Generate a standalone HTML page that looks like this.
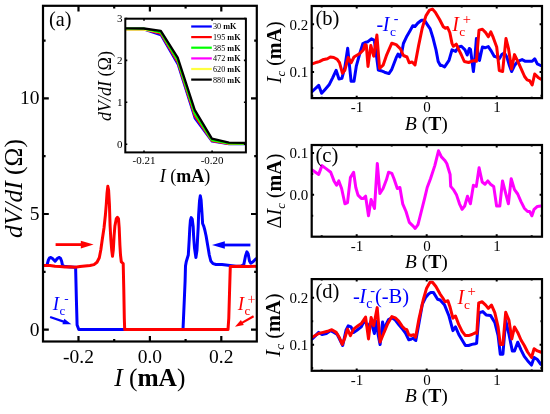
<!DOCTYPE html>
<html><head><meta charset="utf-8"><title>Figure</title>
<style>html,body{margin:0;padding:0;background:#fff;overflow:hidden}svg{display:block}</style>
</head><body>
<svg width="550" height="414" viewBox="0 0 550 414" font-family="'Liberation Serif', 'Times New Roman', serif"><rect width="550" height="414" fill="#fff"/><clipPath id="ca"><rect x="43" y="5.8" width="213.8" height="335.7"/></clipPath><g clip-path="url(#ca)"><polyline points="43.0,265.5 47.0,265.2 48.4,260.0 49.6,257.8 50.8,257.4 52.5,258.5 55.1,261.2 57.3,258.5 59.0,257.4 60.4,258.2 61.6,261.0 62.6,265.8 66.0,266.6 70.0,266.9 75.6,267.2 76.4,300.0 77.1,325.0 78.8,329.6 183.0,329.6 184.3,300.0 185.1,281.0 185.5,266.0 186.3,261.5 188.3,255.0 189.2,240.0 189.8,228.0 190.4,220.5 191.2,217.6 192.2,219.0 193.2,227.0 193.6,236.0 194.5,248.0 195.9,257.6 197.0,250.0 197.6,238.0 198.2,227.0 198.6,215.0 199.5,201.0 200.3,195.7 201.1,200.0 202.1,215.0 202.6,223.5 203.8,226.3 204.8,230.0 206.1,236.0 207.8,246.0 209.3,255.0 210.8,261.0 213.0,263.6 216.0,264.5 222.0,264.6 228.0,265.3 236.0,266.2 241.0,266.3 243.8,264.5 245.5,256.0 246.9,251.8 248.2,254.0 249.5,261.0 250.8,263.2 253.0,261.8 255.5,259.3 257.0,258.2" fill="none" stroke="#0000ff" stroke-width="3.0" stroke-linejoin="round" stroke-linecap="round" /><polyline points="43.0,265.6 50.0,265.5 55.0,266.3 60.0,266.6 65.0,267.0 70.0,266.7 75.0,267.2 80.0,266.6 85.0,266.0 90.0,265.5 94.0,264.6 97.0,262.3 99.3,257.8 100.8,250.0 102.2,240.0 104.0,228.0 105.4,215.0 106.3,204.0 107.0,193.5 107.8,186.3 108.6,190.0 109.4,204.0 110.1,226.0 110.9,240.0 111.7,250.0 112.5,256.3 113.3,250.0 114.1,236.0 114.9,226.0 116.3,218.8 117.5,217.3 118.5,218.8 119.2,228.0 119.9,245.0 120.5,255.0 121.3,261.8 123.2,263.5 123.8,290.0 124.3,318.0 124.7,329.6 228.0,329.6 228.8,318.0 229.6,290.0 230.3,266.6 240.0,266.3 248.0,266.6 257.0,266.3" fill="none" stroke="#ff0000" stroke-width="3.0" stroke-linejoin="round" stroke-linecap="round" /></g><line x1="55.6" y1="244.6" x2="81.8" y2="244.6" stroke="#ff0000" stroke-width="2.8"/><polygon points="93.6,244.6 80.8,248.4 80.8,240.8" fill="#ff0000"/><line x1="250.4" y1="245.0" x2="223.8" y2="245.0" stroke="#0000ff" stroke-width="2.8"/><polygon points="212.0,245.0 224.8,241.2 224.8,248.8" fill="#0000ff"/><line x1="50.1" y1="317.0" x2="64.3" y2="321.9" stroke="#0000ff" stroke-width="2.2"/><polygon points="71.4,324.3 62.4,324.3 64.3,318.8" fill="#0000ff"/><line x1="253.6" y1="316.2" x2="241.5" y2="323.1" stroke="#ff0000" stroke-width="2.2"/><polygon points="235.0,326.8 240.9,320.1 243.8,325.1" fill="#ff0000"/><rect x="43" y="5.8" width="213.8" height="335.7" fill="none" stroke="#000" stroke-width="2.2"/><path d="M78.5,341.5v-5.6M78.5,5.8v5.6M149.9,341.5v-5.6M149.9,5.8v5.6M221.3,341.5v-5.6M221.3,5.8v5.6M114.2,341.5v-2.6M114.2,5.8v2.6M185.6,341.5v-2.6M185.6,5.8v2.6M43,329.6h5.8M256.8,329.6h-5.8M43,214.0h5.8M256.8,214.0h-5.8M43,98.4h5.8M256.8,98.4h-5.8M43,271.8h2.6M256.8,271.8h-2.6M43,156.2h2.6M256.8,156.2h-2.6M43,40.6h2.6M256.8,40.6h-2.6" stroke="#000" stroke-width="2.2" fill="none"/><text x="39.5" y="104.3" font-size="19.5" text-anchor="end" font-weight="normal" font-style="normal" fill="#000" >10</text><text x="39.5" y="219.8" font-size="19.5" text-anchor="end" font-weight="normal" font-style="normal" fill="#000" >5</text><text x="39.5" y="336.4" font-size="19.5" text-anchor="end" font-weight="normal" font-style="normal" fill="#000" >0</text><text x="78.5" y="362.6" font-size="19.5" text-anchor="middle" font-weight="normal" font-style="normal" fill="#000" >-0.2</text><text x="149.9" y="362.6" font-size="19.5" text-anchor="middle" font-weight="normal" font-style="normal" fill="#000" >0.0</text><text x="221.3" y="362.6" font-size="19.5" text-anchor="middle" font-weight="normal" font-style="normal" fill="#000" >0.2</text><text x="49.0" y="26.4" font-size="20.2" text-anchor="start" font-weight="normal" font-style="normal" fill="#000" >(a)</text><text x="149.8" y="386.2" font-size="25.4" text-anchor="middle"><tspan font-style="italic">I</tspan> (<tspan font-weight="bold">mA</tspan>)</text><text transform="translate(22.4,188.5) rotate(-90)" font-size="25.5" text-anchor="middle"><tspan font-style="italic">dV/dI</tspan> (Ω)</text><text x="52.8" y="309.7" font-size="19" text-anchor="start" font-weight="normal" font-style="italic" fill="#0000ff" >I</text><text x="59.4" y="314.8" font-size="13" text-anchor="start" font-weight="normal" font-style="normal" fill="#0000ff" >c</text><text x="64.3" y="302.5" font-size="13" text-anchor="start" font-weight="normal" font-style="normal" fill="#0000ff" >-</text><text x="237.8" y="309.7" font-size="19" text-anchor="start" font-weight="normal" font-style="italic" fill="#ff0000" >I</text><text x="244.6" y="315.2" font-size="13" text-anchor="start" font-weight="normal" font-style="normal" fill="#ff0000" >c</text><text x="247.4" y="303.6" font-size="14.2" text-anchor="start" font-weight="normal" font-style="normal" fill="#ff0000" >+</text><rect x="125.3" y="18.7" width="120.60000000000001" height="133.70000000000002" fill="#fff" stroke="none"/><clipPath id="ci"><rect x="125.3" y="18.7" width="120.6" height="133.7"/></clipPath><g clip-path="url(#ci)"><polyline points="125.3,29.6 127.0,29.6 143.8,29.6 160.8,35.3 177.7,64.5 194.7,118.5 211.9,141.6 229.0,144.2 246.0,144.2" fill="none" stroke="#0000ff" stroke-width="2.0" stroke-linejoin="round" stroke-linecap="round" /><polyline points="125.3,29.3 127.0,29.3 143.8,29.3 160.8,33.6 177.7,62.0 194.7,115.5 211.9,140.8 229.0,143.9 246.0,144.0" fill="none" stroke="#ff00ff" stroke-width="2.0" stroke-linejoin="round" stroke-linecap="round" /><polyline points="125.3,29.3 127.0,29.3 143.8,29.3 160.8,33.8 177.7,62.5 194.7,116.3 211.9,141.0 229.0,144.0 246.0,144.0" fill="none" stroke="#ff0000" stroke-width="2.0" stroke-linejoin="round" stroke-linecap="round" /><polyline points="125.3,29.7 127.0,29.7 143.8,29.7 160.8,32.3 177.7,60.2 194.7,113.0 211.9,140.1 229.0,143.5 246.0,143.6" fill="none" stroke="#ffff40" stroke-width="2.0" stroke-linejoin="round" stroke-linecap="round" /><polyline points="125.3,28.6 127.0,28.6 143.8,28.6 160.8,32.4 177.7,60.6 194.7,113.6 211.9,140.2 229.0,143.6 246.0,143.7" fill="none" stroke="#00ff00" stroke-width="2.0" stroke-linejoin="round" stroke-linecap="round" /><polyline points="125.3,28.4 127.0,28.4 143.8,28.5 160.8,30.9 177.7,57.7 194.7,109.8 211.9,138.7 229.0,142.7 246.0,142.9" fill="none" stroke="#000000" stroke-width="2.3" stroke-linejoin="round" stroke-linecap="round" /></g><rect x="125.3" y="18.7" width="120.60000000000001" height="133.70000000000002" fill="none" stroke="#000" stroke-width="2"/><path d="M144.0,152.4v-2M144.0,18.7v2M212.1,152.4v-2M212.1,18.7v2M125.3,144.2h2M245.9,144.2h-2M125.3,102.3h2M245.9,102.3h-2M125.3,60.4h2M245.9,60.4h-2M125.3,18.5h2M245.9,18.5h-2" stroke="#000" stroke-width="1.6" fill="none"/><text x="122.6" y="147.9" font-size="11" text-anchor="end" font-weight="normal" font-style="normal" fill="#000" >0</text><text x="122.6" y="106.0" font-size="11" text-anchor="end" font-weight="normal" font-style="normal" fill="#000" >1</text><text x="122.6" y="64.1" font-size="11" text-anchor="end" font-weight="normal" font-style="normal" fill="#000" >2</text><text x="122.6" y="22.2" font-size="11" text-anchor="end" font-weight="normal" font-style="normal" fill="#000" >3</text><text x="144.0" y="164" font-size="11" text-anchor="middle" font-weight="normal" font-style="normal" fill="#000" >-0.21</text><text x="212.1" y="164" font-size="11" text-anchor="middle" font-weight="normal" font-style="normal" fill="#000" >-0.20</text><text x="185" y="182.3" font-size="18" text-anchor="middle"><tspan font-style="italic">I</tspan> (<tspan font-weight="bold">mA</tspan>)</text><text transform="translate(111,86) rotate(-90)" font-size="18" text-anchor="middle"><tspan font-style="italic">dV/dI</tspan> (Ω)</text><line x1="191.2" y1="26.5" x2="211.8" y2="26.5" stroke="#0000ff" stroke-width="2.2"/><text x="213" y="29.4" font-size="8.2">30 <tspan font-weight="bold">mK</tspan></text><line x1="191.2" y1="37.1" x2="211.8" y2="37.1" stroke="#ff0000" stroke-width="2.2"/><text x="213" y="40.0" font-size="8.2">195 <tspan font-weight="bold">mK</tspan></text><line x1="191.2" y1="47.7" x2="211.8" y2="47.7" stroke="#00ff00" stroke-width="2.2"/><text x="213" y="50.6" font-size="8.2">385 <tspan font-weight="bold">mK</tspan></text><line x1="191.2" y1="58.4" x2="211.8" y2="58.4" stroke="#ff00ff" stroke-width="2.2"/><text x="213" y="61.3" font-size="8.2">472 <tspan font-weight="bold">mK</tspan></text><line x1="191.2" y1="69.0" x2="211.8" y2="69.0" stroke="#ffff40" stroke-width="2.2"/><text x="213" y="71.9" font-size="8.2">620 <tspan font-weight="bold">mK</tspan></text><line x1="191.2" y1="79.6" x2="211.8" y2="79.6" stroke="#000000" stroke-width="2.2"/><text x="213" y="82.5" font-size="8.2">880 <tspan font-weight="bold">mK</tspan></text><clipPath id="cb"><rect x="311.7" y="6" width="230.3" height="92.1"/></clipPath><clipPath id="cc"><rect x="311.7" y="145" width="230.3" height="91.69999999999999"/></clipPath><clipPath id="cd"><rect x="311.7" y="279.1" width="230.3" height="91.69999999999999"/></clipPath><g clip-path="url(#cb)"><polyline points="311.0,92.0 312.2,91.5 318.7,85.3 321.6,93.3 325.1,89.4 329.1,84.8 332.6,77.8 336.1,70.3 339.0,79.0 341.9,78.4 344.8,67.4 347.7,48.3 351.1,81.3 354.0,81.3 356.3,66.2 359.8,53.5 362.9,43.5 365.0,42.5 367.9,41.7 371.4,38.8 374.3,40.4 376.5,56.0 378.3,70.0 380.9,70.7 384.6,72.2 388.9,73.6 391.8,69.3 394.0,63.5 396.2,57.7 398.0,54.1 399.8,57.0 402.0,51.2 403.4,43.5 407.0,35.9 409.9,30.9 412.8,25.8 415.0,26.5 417.9,23.0 421.5,20.2 424.4,20.2 427.3,24.6 430.2,28.9 433.1,38.3 436.0,49.9 438.2,61.5 440.4,65.5 441.4,65.2 444.6,66.9 449.0,60.4 452.0,49.9 455.6,51.4 458.5,47.0 461.4,46.3 465.0,49.9 467.2,55.0 469.3,48.5 470.5,49.5 472.2,62.2 473.4,71.5 474.8,58.8 476.4,38.5 478.1,54.6 479.5,60.5 482.4,47.0 484.9,47.8 488.3,46.6 490.8,50.3 494.2,56.3 496.7,57.1 499.3,58.8 501.8,54.6 504.3,52.9 506.9,57.1 509.4,65.5 511.6,71.5 514.5,65.5 517.8,61.3 522.1,59.6 525.4,61.3 528.8,61.3 532.2,61.3 534.7,58.8 537.3,63.9 540.6,65.5 543.0,65.8" fill="none" stroke="#0000ff" stroke-width="3.0" stroke-linejoin="round" stroke-linecap="round" /><polyline points="311.0,64.2 312.3,63.9 317.0,62.2 319.3,61.6 322.7,59.8 327.4,58.7 330.3,57.0 333.8,57.5 337.2,59.3 339.5,62.7 342.4,73.2 344.8,70.3 348.2,57.5 351.1,62.7 354.0,57.0 356.9,55.2 359.8,53.5 363.3,50.0 365.0,44.7 366.3,45.2 368.0,66.4 370.8,45.4 373.7,56.2 376.9,35.0 379.6,68.5 383.1,65.2 386.7,54.8 391.8,43.2 396.2,44.6 400.5,49.0 403.4,55.5 407.0,57.0 409.2,62.8 412.1,62.0 415.0,64.9 418.6,45.6 422.2,28.2 425.9,15.9 429.5,10.1 432.4,9.1 435.3,12.2 439.6,19.5 443.3,26.7 445.4,28.2 447.6,27.5 449.8,32.5 452.0,43.4 453.4,46.3 456.3,44.1 458.5,49.2 461.4,55.0 464.3,61.5 468.6,62.5 471.4,61.3 474.8,60.5 476.4,61.3 479.0,30.1 482.4,29.2 485.7,32.6 488.3,36.8 490.8,31.8 493.3,37.7 496.7,47.0 499.3,70.6 502.6,71.5 506.0,38.5 508.5,48.6 511.6,68.9 514.5,54.6 517.8,61.3 521.2,68.9 524.6,76.5 527.1,79.9 529.7,80.7 532.2,85.0 534.7,74.0 538.1,77.4 540.6,79.1 543.0,79.8" fill="none" stroke="#ff0000" stroke-width="3.0" stroke-linejoin="round" stroke-linecap="round" /></g><g clip-path="url(#cc)"><polyline points="312.2,170.0 318.7,174.4 322.0,165.6 326.4,168.9 330.7,172.2 334.0,180.9 336.6,185.3 338.8,180.9 341.6,188.5 344.9,203.8 347.5,202.7 350.4,177.6 353.6,172.2 355.8,187.5 358.0,195.1 361.3,198.4 363.5,198.4 365.6,196.2 368.5,215.8 371.1,199.5 374.5,208.5 377.3,163.5 379.9,193.5 383.1,188.5 386.4,179.8 388.6,172.2 391.8,173.3 394.0,178.7 397.3,188.5 399.9,187.5 402.7,203.8 406.0,211.5 409.3,222.4 412.6,225.6 415.2,228.5 418.0,224.6 421.3,211.5 424.6,198.4 427.2,187.5 430.5,178.7 434.8,165.6 438.5,150.8 441.4,156.9 444.6,160.2 446.8,163.5 450.1,174.4 450.7,186.4 453.4,189.6 456.6,195.1 459.5,203.8 462.1,209.3 464.7,206.0 467.5,196.2 470.4,203.8 473.4,185.3 476.3,186.4 479.1,167.8 482.2,182.0 485.0,184.2 487.8,180.9 490.5,184.2 493.7,186.4 496.6,206.0 499.8,206.0 502.5,180.9 505.3,191.8 508.4,203.8 511.2,178.7 514.5,189.6 517.7,194.0 521.0,201.6 524.3,208.2 527.6,211.5 529.7,211.5 531.9,215.8 534.1,209.3 537.4,206.4 540.6,206.0 542.0,206.0" fill="none" stroke="#ff00ff" stroke-width="3.0" stroke-linejoin="round" stroke-linecap="round" /></g><g clip-path="url(#cd)"><polyline points="312.2,338.9 315.5,335.6 318.7,332.4 322.0,334.5 326.4,333.5 330.7,330.6 334.0,332.4 337.3,334.5 340.5,341.1 342.7,345.5 346.0,330.2 348.2,325.8 351.0,326.9 353.6,332.4 356.9,330.2 361.3,326.9 364.5,320.4 367.8,326.9 371.1,321.5 374.4,333.5 376.3,321.0 378.2,335.0 380.1,344.6 382.6,322.0 384.3,331.0 386.4,324.0 388.6,319.5 391.9,317.8 395.3,320.0 398.7,324.5 402.9,329.6 405.5,333.0 408.8,339.8 411.5,339.0 413.6,338.0 414.8,340.0 415.8,340.5 419.1,322.5 422.4,304.0 425.6,297.5 428.3,294.2 430.8,292.4 433.4,292.4 437.6,299.2 440.1,300.0 444.6,305.1 449.0,316.0 452.9,330.6 455.5,326.9 458.8,334.5 462.1,340.0 465.4,345.5 468.6,345.5 471.9,344.4 475.2,343.7 476.6,343.3 479.1,312.7 482.8,311.6 486.1,314.9 490.5,315.4 494.8,322.5 498.1,335.6 500.3,354.2 502.9,354.2 505.7,320.4 509.0,334.5 512.3,350.9 514.5,350.9 517.7,342.2 521.0,349.8 524.3,356.4 527.6,360.7 531.5,365.1 534.1,357.5 537.4,359.6 540.6,364.0 542.0,365.0" fill="none" stroke="#0000ff" stroke-width="3.0" stroke-linejoin="round" stroke-linecap="round" /><polyline points="312.2,337.2 318.7,333.5 323.1,332.4 327.5,331.3 331.8,329.7 336.2,332.4 339.5,337.8 342.3,344.4 344.9,337.8 347.5,329.1 350.4,335.6 353.6,329.1 358.0,325.8 361.3,323.6 365.6,317.1 368.5,338.9 371.1,317.5 373.7,325.8 377.2,307.6 380.1,342.0 383.5,333.8 387.7,323.7 391.9,316.6 395.3,317.8 398.7,321.1 402.1,326.2 404.6,328.8 406.8,329.6 408.8,334.7 411.4,335.5 413.6,334.7 415.6,337.2 419.0,318.6 423.2,300.0 426.6,288.2 430.0,282.2 432.5,282.2 435.9,286.5 440.1,294.1 442.5,297.5 445.1,301.8 447.9,300.7 450.1,307.3 452.9,318.2 455.5,316.0 458.8,324.7 462.1,331.3 465.4,335.6 468.6,335.6 471.9,334.5 475.2,332.8 476.8,333.5 478.7,302.9 482.2,301.8 485.7,305.1 488.3,308.4 491.5,305.1 494.8,312.7 498.1,326.9 500.3,344.4 502.9,344.4 505.7,312.3 509.0,320.4 511.8,338.9 514.5,326.9 517.7,332.4 521.0,340.0 524.3,345.5 527.6,352.0 531.5,357.5 534.1,348.7 537.4,350.9 540.6,352.0 542.0,352.5" fill="none" stroke="#ff0000" stroke-width="3.0" stroke-linejoin="round" stroke-linecap="round" /></g><rect x="311.7" y="6" width="230.3" height="92.1" fill="none" stroke="#000" stroke-width="2.2"/><path d="M356.7,98.1v-2.4M356.7,6v2.4M426.7,98.1v-2.4M426.7,6v2.4M496.7,98.1v-2.4M496.7,6v2.4M321.7,98.1v-1.4M321.7,6v1.4M391.7,98.1v-1.4M391.7,6v1.4M461.7,98.1v-1.4M461.7,6v1.4M531.7,98.1v-1.4M531.7,6v1.4M311.7,71.9h2.4M542,71.9h-2.4M311.7,24.3h2.4M542,24.3h-2.4M311.7,95.7h1.5M542,95.7h-1.5M311.7,48.1h1.5M542,48.1h-1.5" stroke="#000" stroke-width="2" fill="none"/><text x="308.3" y="77.1" font-size="15" text-anchor="end" font-weight="normal" font-style="normal" fill="#000" >0.1</text><text x="308.3" y="29.5" font-size="15" text-anchor="end" font-weight="normal" font-style="normal" fill="#000" >0.2</text><text x="357.0" y="112.2" font-size="15" text-anchor="middle" font-weight="normal" font-style="normal" fill="#000" >-1</text><text x="427.0" y="112.2" font-size="15" text-anchor="middle" font-weight="normal" font-style="normal" fill="#000" >0</text><text x="497.0" y="112.2" font-size="15" text-anchor="middle" font-weight="normal" font-style="normal" fill="#000" >1</text><text x="426.3" y="129.6" font-size="19.7" text-anchor="middle"><tspan font-style="italic">B</tspan> (<tspan font-weight="bold">T</tspan>)</text><text x="315.4" y="24.6" font-size="20.6" text-anchor="start" font-weight="normal" font-style="normal" fill="#000" >(b)</text><rect x="311.7" y="145" width="230.3" height="91.69999999999999" fill="none" stroke="#000" stroke-width="2.2"/><path d="M356.7,236.7v-2.4M356.7,145v2.4M426.7,236.7v-2.4M426.7,145v2.4M496.7,236.7v-2.4M496.7,145v2.4M321.7,236.7v-1.4M321.7,145v1.4M391.7,236.7v-1.4M391.7,145v1.4M461.7,236.7v-1.4M461.7,145v1.4M531.7,236.7v-1.4M531.7,145v1.4M311.7,194.8h2.4M542,194.8h-2.4M311.7,152.9h2.4M542,152.9h-2.4M311.7,215.8h1.5M542,215.8h-1.5M311.7,173.9h1.5M542,173.9h-1.5" stroke="#000" stroke-width="2" fill="none"/><text x="308.3" y="200.0" font-size="15" text-anchor="end" font-weight="normal" font-style="normal" fill="#000" >0.0</text><text x="308.3" y="158.1" font-size="15" text-anchor="end" font-weight="normal" font-style="normal" fill="#000" >0.1</text><text x="357.0" y="250.8" font-size="15" text-anchor="middle" font-weight="normal" font-style="normal" fill="#000" >-1</text><text x="427.0" y="250.8" font-size="15" text-anchor="middle" font-weight="normal" font-style="normal" fill="#000" >0</text><text x="497.0" y="250.8" font-size="15" text-anchor="middle" font-weight="normal" font-style="normal" fill="#000" >1</text><text x="426.3" y="268.2" font-size="19.7" text-anchor="middle"><tspan font-style="italic">B</tspan> (<tspan font-weight="bold">T</tspan>)</text><text x="315.4" y="161.9" font-size="20.6" text-anchor="start" font-weight="normal" font-style="normal" fill="#000" >(c)</text><rect x="311.7" y="279.1" width="230.3" height="91.69999999999999" fill="none" stroke="#000" stroke-width="2.2"/><path d="M356.7,370.8v-2.4M356.7,279.1v2.4M426.7,370.8v-2.4M426.7,279.1v2.4M496.7,370.8v-2.4M496.7,279.1v2.4M321.7,370.8v-1.4M321.7,279.1v1.4M391.7,370.8v-1.4M391.7,279.1v1.4M461.7,370.8v-1.4M461.7,279.1v1.4M531.7,370.8v-1.4M531.7,279.1v1.4M311.7,344.7h2.4M542,344.7h-2.4M311.7,297.8h2.4M542,297.8h-2.4M311.7,368.1h1.5M542,368.1h-1.5M311.7,321.2h1.5M542,321.2h-1.5" stroke="#000" stroke-width="2" fill="none"/><text x="308.3" y="349.9" font-size="15" text-anchor="end" font-weight="normal" font-style="normal" fill="#000" >0.1</text><text x="308.3" y="303.0" font-size="15" text-anchor="end" font-weight="normal" font-style="normal" fill="#000" >0.2</text><text x="357.0" y="384.9" font-size="15" text-anchor="middle" font-weight="normal" font-style="normal" fill="#000" >-1</text><text x="427.0" y="384.9" font-size="15" text-anchor="middle" font-weight="normal" font-style="normal" fill="#000" >0</text><text x="497.0" y="384.9" font-size="15" text-anchor="middle" font-weight="normal" font-style="normal" fill="#000" >1</text><text x="426.3" y="402.3" font-size="19.7" text-anchor="middle"><tspan font-style="italic">B</tspan> (<tspan font-weight="bold">T</tspan>)</text><text x="315.4" y="297.9" font-size="20.6" text-anchor="start" font-weight="normal" font-style="normal" fill="#000" >(d)</text><text transform="translate(281,52.3) rotate(-90)" font-size="20" text-anchor="middle"><tspan font-style="italic">I</tspan><tspan font-size="13" font-style="italic" dy="4">c</tspan><tspan dy="-4"> (</tspan><tspan font-weight="bold">mA</tspan>)</text><text transform="translate(281,191) rotate(-90)" font-size="20" text-anchor="middle">Δ<tspan font-style="italic">I</tspan><tspan font-size="13" font-style="italic" dy="4">c</tspan><tspan dy="-4"> (</tspan><tspan font-weight="bold">mA</tspan>)</text><text transform="translate(279.9,325.1) rotate(-90)" font-size="20.4" text-anchor="middle"><tspan font-style="italic">I</tspan><tspan font-size="13.3" font-style="italic" dy="4">c</tspan><tspan dy="-4"> (</tspan><tspan font-weight="bold">mA</tspan>)</text><text x="376.6" y="30.7" font-size="20" text-anchor="start" font-weight="normal" font-style="normal" fill="#0000ff" >-</text><text x="382.8" y="30.7" font-size="20" text-anchor="start" font-weight="normal" font-style="italic" fill="#0000ff" >I</text><text x="390" y="36" font-size="13.5" text-anchor="start" font-weight="normal" font-style="normal" fill="#0000ff" >c</text><text x="393.8" y="22.6" font-size="14" text-anchor="start" font-weight="normal" font-style="normal" fill="#0000ff" >-</text><text x="452.3" y="30.7" font-size="20" text-anchor="start" font-weight="normal" font-style="italic" fill="#ff0000" >I</text><text x="459.2" y="36" font-size="13.5" text-anchor="start" font-weight="normal" font-style="normal" fill="#ff0000" >c</text><text x="462.8" y="24.3" font-size="14.5" text-anchor="start" font-weight="normal" font-style="normal" fill="#ff0000" >+</text><text x="353.1" y="303.2" font-size="20.6" text-anchor="start" font-weight="normal" font-style="normal" fill="#0000ff" >-</text><text x="359.3" y="302.9" font-size="20.6" text-anchor="start" font-weight="normal" font-style="italic" fill="#0000ff" >I</text><text x="366.2" y="308.4" font-size="14" text-anchor="start" font-weight="normal" font-style="normal" fill="#0000ff" >c</text><text x="370.2" y="295.2" font-size="14.5" text-anchor="start" font-weight="normal" font-style="normal" fill="#0000ff" >-</text><text x="374.9" y="302.9" font-size="20.6" text-anchor="start" font-weight="normal" font-style="normal" fill="#0000ff" >(-B)</text><text x="457.4" y="304.1" font-size="20" text-anchor="start" font-weight="normal" font-style="italic" fill="#ff0000" >I</text><text x="464.1" y="309" font-size="13.5" text-anchor="start" font-weight="normal" font-style="normal" fill="#ff0000" >c</text><text x="467.4" y="296.2" font-size="14.8" text-anchor="start" font-weight="normal" font-style="normal" fill="#ff0000" >+</text></svg>
</body></html>
